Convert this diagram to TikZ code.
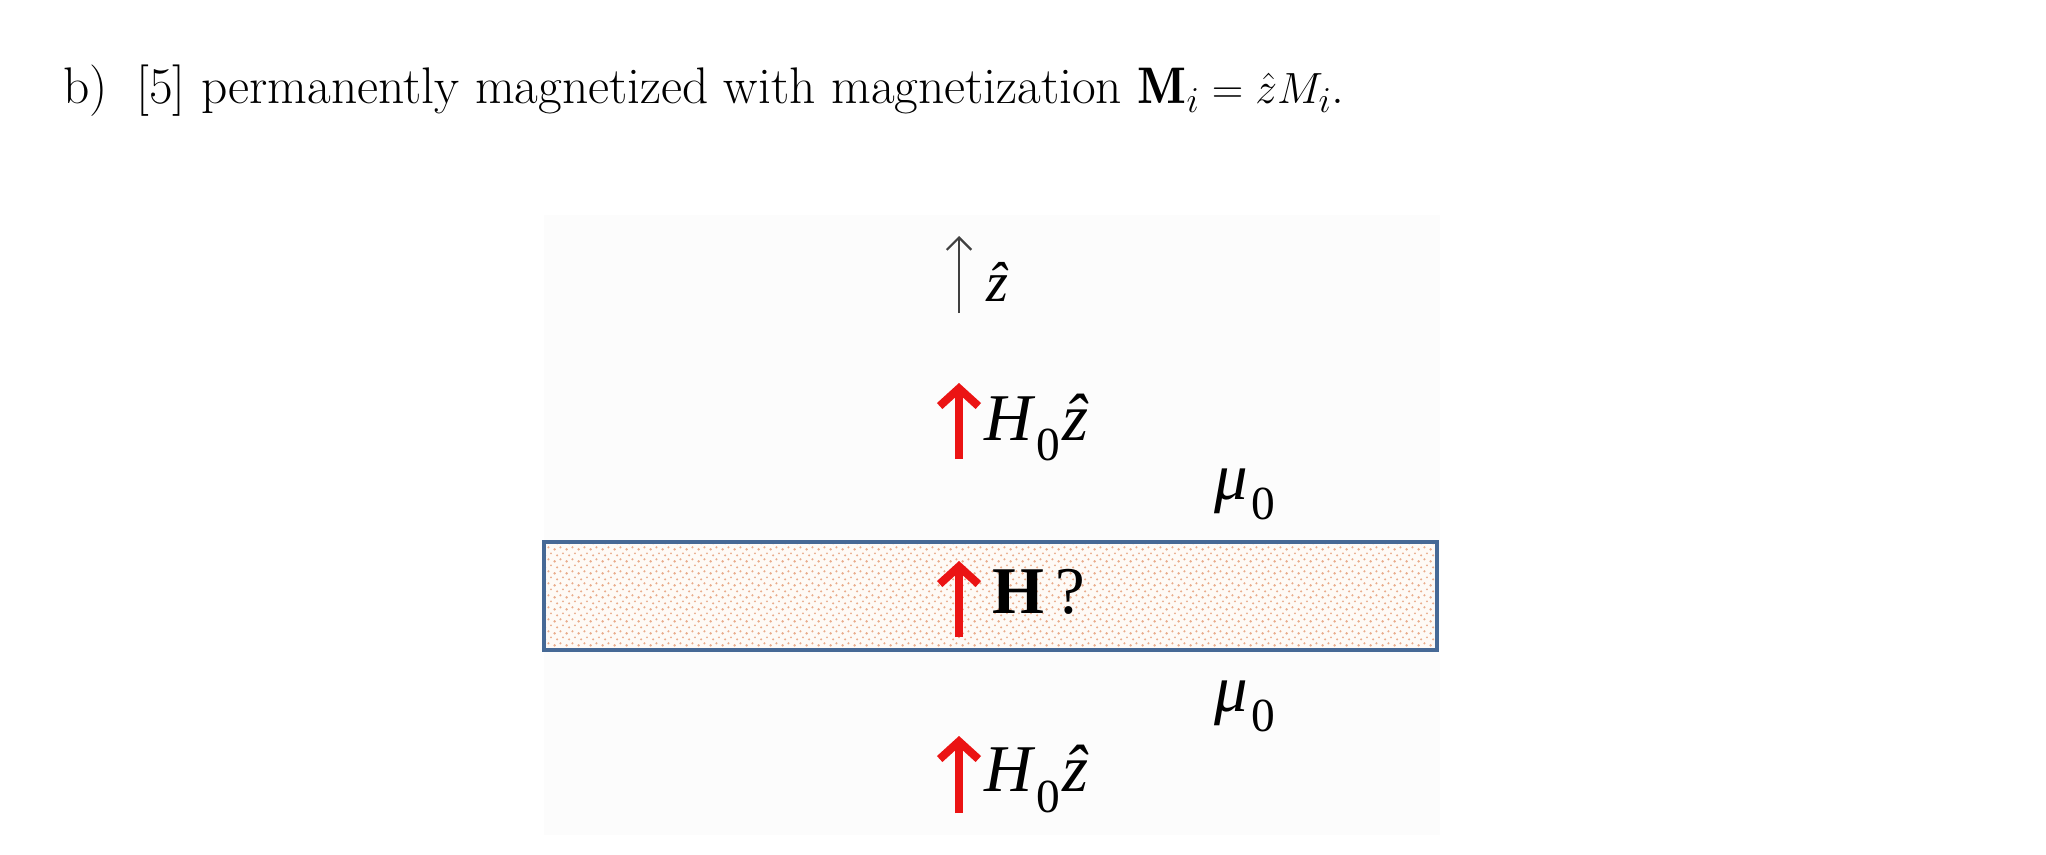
\documentclass[tikz,border=0pt]{standalone}
\usepackage{fontspec}
\newfontfamily\tnr{Liberation Serif}
\usetikzlibrary{arrows.meta,patterns}
\definecolor{redarrow}{RGB}{235,20,20}
\definecolor{boxedge}{RGB}{70,105,150}
\definecolor{boxfill}{RGB}{254,250,246}
\definecolor{dotcol}{RGB}{226,145,100}
\pgfdeclarepatternformonly{slabdots}{\pgfqpoint{0pt}{0pt}}{\pgfqpoint{7pt}{7pt}}{\pgfqpoint{7pt}{7pt}}{
  \pgfpathcircle{\pgfqpoint{1pt}{1pt}}{0.8pt}
  \pgfpathcircle{\pgfqpoint{4.5pt}{2.2pt}}{0.7pt}
  \pgfpathcircle{\pgfqpoint{2.5pt}{4.6pt}}{0.7pt}
  \pgfpathcircle{\pgfqpoint{6pt}{5.8pt}}{0.6pt}
  \pgfusepath{fill}
}
\tikzset{
  redarr/.style={draw=redarrow, line width=4.6pt, -{Straight Barb[length=10pt,width=22pt]}},
  thinarr/.style={draw=black!75, line width=1.3pt, -{Straight Barb[length=7pt,width=14pt]}},
  lab/.style={inner sep=0pt, font=\tnr\fontsize{38}{42}\selectfont},
  smalllab/.style={inner sep=0pt, font=\tnr\fontsize{32}{36}\selectfont},
}
\newcommand{\subz}{\hspace{0.06em}\raisebox{-0.3em}{\upshape\fontsize{27}{30}\selectfont 0}\hspace{0.03em}}
\begin{document}
\begin{tikzpicture}[x=0.02cm,y=-0.02cm]
\useasboundingbox (0,0) rectangle (2046,855);
% light background of pasted figure
\fill[black!1] (544,215) rectangle (1440,835);
% title
\node[anchor=base west, inner sep=0pt, font=\fontsize{29.3}{34}\selectfont] (title) at (63,104)
  {b)\hspace{0.55em}[5] permanently magnetized with magnetization $\mathbf{M}_i=\hat{z}M_i$.};
% slab
\path[fill=boxfill] (544,542) rectangle (1437,650);
\path[pattern=slabdots, pattern color=dotcol!75] (544,542) rectangle (1437,650);
\draw[boxedge, line width=2pt] (544,542) rectangle (1437,650);
\coordinate (slab) at (990.5,596);
% z axis
\coordinate (za) at (959,313);
\coordinate (zb) at (959,236);
\draw[thinarr] (za) -- (zb);
\node[smalllab, anchor=west] (zhat) at (986,282) {\itshape\^z};
% top H0 z
\coordinate (h1a) at (959,459);
\coordinate (h1b) at (959,383);
\draw[redarr] (h1a) -- (h1b);
\node[lab, anchor=west] (h1) at (984,428) {\itshape H\subz\^z};
% mu top
\node[lab, anchor=west] (mu1) at (1214,494) {\itshape μ\subz};
% inside
\coordinate (h2a) at (959,637);
\coordinate (h2b) at (959,561);
\draw[redarr] (h2a) -- (h2b);
\node[lab, anchor=west] (hq) at (992,592) {\bfseries H\,\mdseries ?};
% mu bottom
\node[lab, anchor=west] (mu2) at (1214,706) {\itshape μ\subz};
% bottom H0 z
\coordinate (h3a) at (959,813);
\coordinate (h3b) at (959,736);
\draw[redarr] (h3a) -- (h3b);
\node[lab, anchor=west] (h3) at (984,779) {\itshape H\subz\^z};
\end{tikzpicture}
\end{document}
